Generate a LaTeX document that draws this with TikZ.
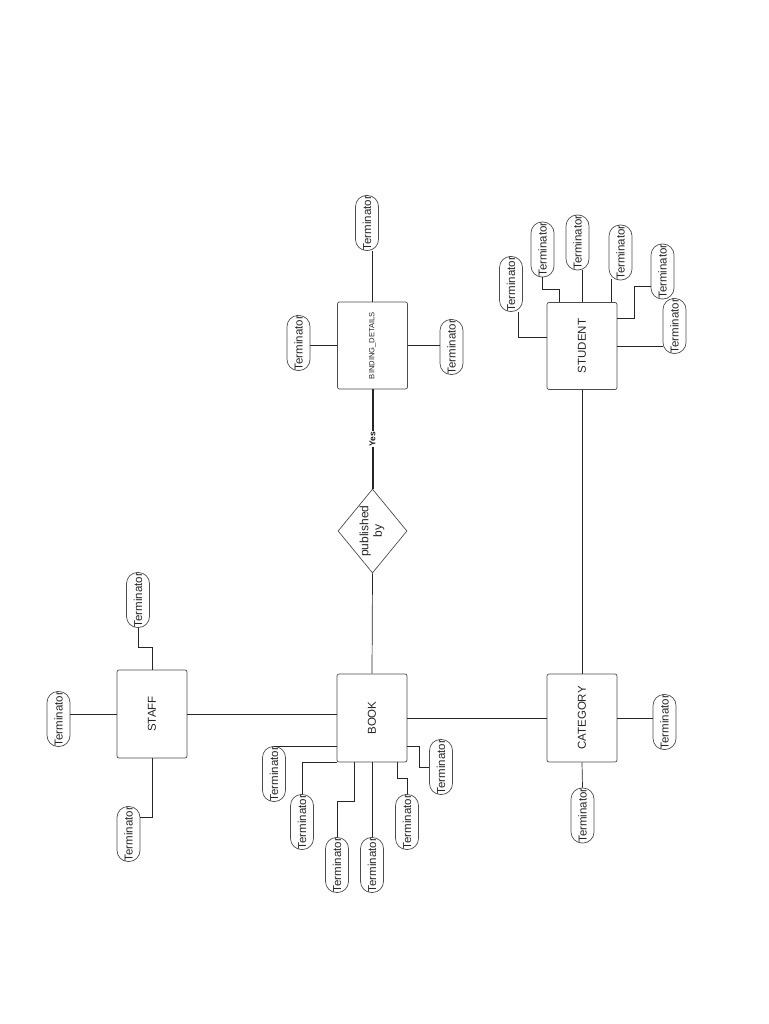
\documentclass[tikz,border=0pt]{standalone}
\usepackage{fontspec}
\setsansfont{Liberation Sans}
\usepackage{graphicx}
\usetikzlibrary{calc}
\usetikzlibrary{positioning}
\usetikzlibrary{shapes.geometric}

\newcommand{\vtext}[1]{\rotatebox{90}{#1}}

\begin{document}
\begin{tikzpicture}[x=1pt, y=-1pt, draw=black!85, line width=0.7pt, font=\sffamily]
			\tikzstyle{entity}=[draw=black!70, rectangle, rounded corners=2pt, minimum width=70pt, minimum height=88pt, inner sep=0pt, text=black!85, font=\sffamily\fontsize{11.5}{13}\selectfont]
			\tikzstyle{attr}=[draw=black!70, rectangle, rounded corners=11pt, minimum width=23pt, minimum height=55pt, inner sep=0pt, text=black!85, font=\sffamily\fontsize{11.5}{13}\selectfont]
			\tikzstyle{rel}=[draw=black!70, diamond, aspect=0.82, minimum width=69pt, minimum height=84pt, inner sep=0pt]

			\useasboundingbox (0,0) rectangle (768,1024);

			% entities and relation
			\node[entity] (staff) at (152,714) {\vtext{STAFF}};
			\node[entity] (book) at (372,718) {\vtext{BOOK}};
			\node[entity] (cat) at (582,718) {\vtext{CATEGORY}};
			\node[entity, minimum height=87pt] (stu) at (582,346) {\vtext{STUDENT}};
			\node[entity, minimum height=87pt, font=\sffamily\fontsize{7.6}{9}\selectfont] (bind) at (372.5,345.5) {\vtext{BINDING\_DETAILS}};
			\node[rel, label={[text=black!85, font=\sffamily\fontsize{12}{13.5}\selectfont]center:\vtext{\begin{tabular}{@{}c@{}}published\\by\end{tabular}}}] (pub) at (372.5,531) {};

			% attributes of STAFF
			\node[attr] (tS1) at (138,600) {\vtext{Terminator}};
			\node[attr] (tS2) at (58.5,719) {\vtext{Terminator}};
			\node[attr] (tS3) at (128.5,834) {\vtext{Terminator}};

			% attributes of BOOK
			\node[attr] (tB1) at (274,774) {\vtext{Terminator}};
			\node[attr] (tB2) at (302,822) {\vtext{Terminator}};
			\node[attr] (tB3) at (337,865) {\vtext{Terminator}};
			\node[attr] (tB4) at (372,865) {\vtext{Terminator}};
			\node[attr] (tB5) at (407,822) {\vtext{Terminator}};
			\node[attr] (tB6) at (441,767) {\vtext{Terminator}};

			% attributes of BINDING_DETAILS
			\node[attr] (tD1) at (367,223) {\vtext{Terminator}};
			\node[attr] (tD2) at (298.5,343) {\vtext{Terminator}};
			\node[attr] (tD3) at (451.5,347) {\vtext{Terminator}};

			% attributes of STUDENT
			\node[attr] (tU1) at (511,284) {\vtext{Terminator}};
			\node[attr] (tU2) at (542.5,249.5) {\vtext{Terminator}};
			\node[attr] (tU3) at (577.5,242.5) {\vtext{Terminator}};
			\node[attr] (tU4) at (620.5,252.5) {\vtext{Terminator}};
			\node[attr] (tU5) at (662.5,271.5) {\vtext{Terminator}};
			\node[attr] (tU6) at (674.5,326) {\vtext{Terminator}};

			% attributes of CATEGORY
			\node[attr] (tC1) at (664.5,722) {\vtext{Terminator}};
			\node[attr] (tC2) at (582.5,815.5) {\vtext{Terminator}};

			% relationships
			\draw (staff.east) -- (staff.east -| book.west);
			\path (book.north) edge (pub.south);
			\draw[line width=2pt] (pub.north) -- node[fill=white, inner sep=0.5pt, text=black!90, font=\sffamily\bfseries\fontsize{8.5}{9}\selectfont] {\vtext{Yes}} (bind.south);
			\path (book.east) edge (cat.west);
			\path (stu.south) edge (cat.north);

			% STAFF links
			\draw (staff.north) -- ++(0,-22) -| (tS1.south);
			\draw (staff.west) -- (staff.west -| tS2.east);
			\draw (staff.south) |- ($(tS3.east)+(0,-17)$);

			% BOOK links
			\draw (tB1.north) -- (tB1.north -| book.west);
			\draw (tB2.north) |- (book.south west);
			\draw ($(book.south)+(-18,0)$) -- ++(0,39) -| (tB3.north);
			\path (book.south) edge (tB4.north);
			\draw ($(book.south)+(25,0)$) -- ++(0,16) -| (tB5.north);
			\draw ($(book.east)+(0,28)$) -- ++(12,0) |- (tB6.west);

			% BINDING_DETAILS links
			\draw (bind.north) -- (bind.north |- tD1.south);
			\draw (bind.west) -- (bind.west -| tD2.east);
			\draw (bind.east) -- (bind.east -| tD3.west);

			% STUDENT links
			\draw ($(stu.west)+(0,-9)$) -| ($(tU1.south)+(7,0)$);
			\draw ($(stu.north)+(-23,0)$) -- ++(0,-13) -| (tU2.south);
			\draw (stu.north) -- (stu.north |- tU3.south);
			\draw ($(stu.north)+(29,0)$) -- ($(stu.north)+(29,-23)$);
			\draw ($(stu.east)+(0,-28)$) -- ++(17,0) |- ($(tU5.west)+(0,15)$);
			\draw (stu.east) -- (stu.east -| tU6.west);

			% CATEGORY links
			\draw (cat.east) -- (cat.east -| tC1.west);
			\path (cat.south) edge (tC2.north);
\end{tikzpicture}
\end{document}
